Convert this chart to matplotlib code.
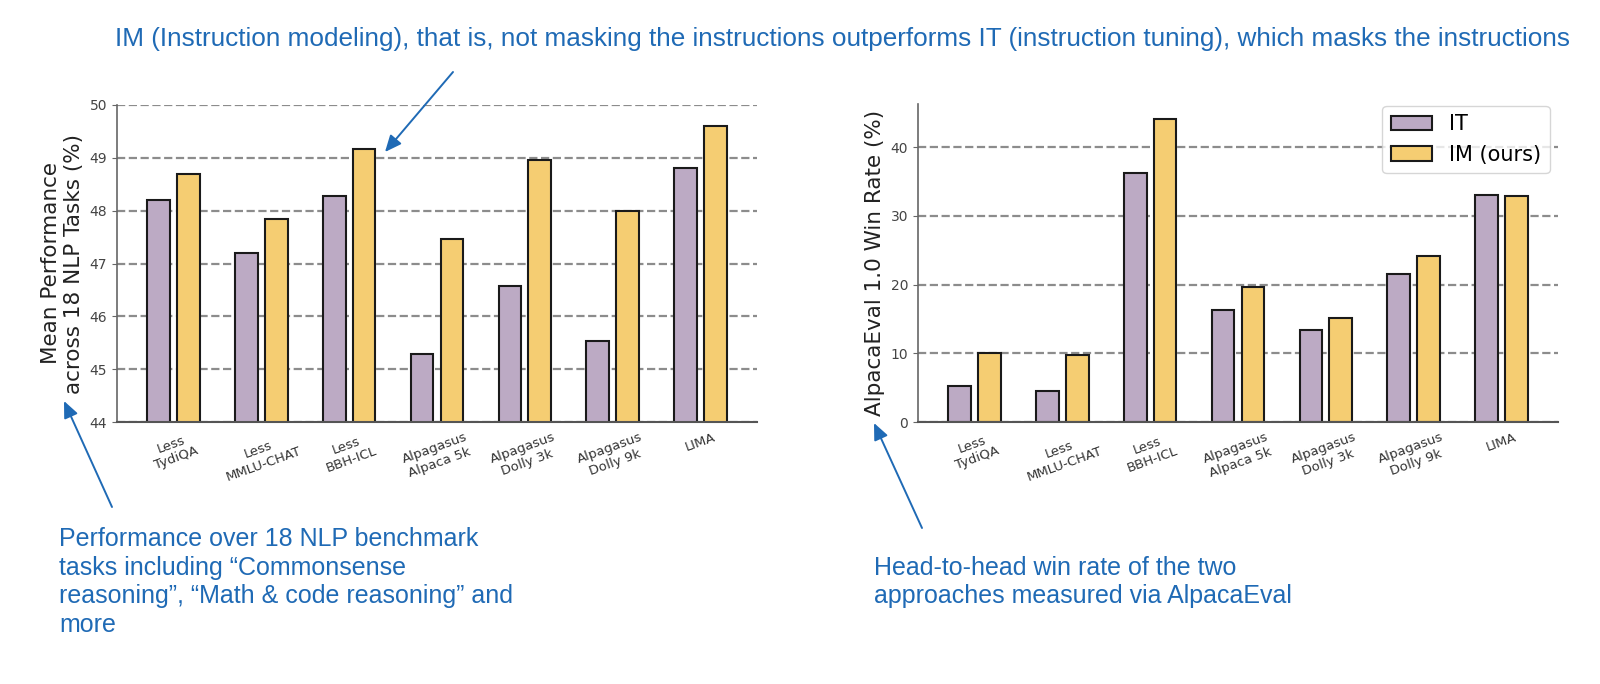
import numpy as np
import matplotlib
matplotlib.use("Agg")
import matplotlib.pyplot as plt

# data
categories = ["Less\nTydiQA", "Less\nMMLU-CHAT", "Less\nBBH-ICL", "Alpagasus\nAlpaca 5k",
              "Alpagasus\nDolly 3k", "Alpagasus\nDolly 9k", "LIMA"]
nlp_it = [48.21, 47.19, 48.28, 45.29, 46.58, 45.54, 48.80]
nlp_im = [48.70, 47.84, 49.16, 47.47, 48.96, 48.00, 49.60]
win_it = [5.2, 4.5, 36.2, 16.3, 13.4, 21.6, 33.1]
win_im = [10.1, 9.8, 44.1, 19.6, 15.1, 24.2, 32.9]
nlp_ticks = [44, 45, 46, 47, 48, 49, 50]
win_ticks = [0, 10, 20, 30, 40]
series_names = ["IT", "IM (ours)"]

c_it = "#bcaac4"
c_im = "#f5cd72"
blue = "#1f6ab5"
note_font = ["Liberation Sans", "DejaVu Sans"]

W, H = 1600, 684
fig = plt.figure(figsize=(W / 100, H / 100), dpi=100)


def px(x, y):
    # pixel position (from top-left) to figure fraction
    return x / W, 1 - y / H


def bar_panel(ax, it_vals, im_vals, ylabel):
    x = np.arange(len(categories))
    w, off = 0.26, 0.17
    ax.bar(x - off, it_vals, w, color=c_it, edgecolor="#1a1a1a", linewidth=1.5, label=series_names[0])
    ax.bar(x + off, im_vals, w, color=c_im, edgecolor="#1a1a1a", linewidth=1.5, label=series_names[1])
    ax.set_xlim(-0.64, len(categories) - 1 + 0.64)
    ax.set_xticks(x)
    ax.set_xticklabels(categories, rotation=20, ha="center", fontsize=9.5, color="#333333")
    ax.tick_params(axis="x", length=0, pad=6)
    ax.tick_params(axis="y", labelsize=10, labelcolor="#444444", color="#666666", length=3.5)
    ax.set_ylabel(ylabel, fontsize=15.5, color="#222222")
    ax.yaxis.grid(True, linestyle="--", color="#8c8c8c", linewidth=1.6)
    ax.set_axisbelow(True)
    for s in ["top", "right"]:
        ax.spines[s].set_visible(False)
    ax.spines["left"].set_color("#666666")
    ax.spines["left"].set_linewidth(1.2)
    ax.spines["bottom"].set_color("#555555")
    ax.spines["bottom"].set_linewidth(1.5)


ax1 = fig.add_axes([117 / W, 1 - 422 / H, 640 / W, 317 / H])
bar_panel(ax1, nlp_it, nlp_im, "Mean Performance\nacross 18 NLP Tasks (%)")
ax1.set_ylim(nlp_ticks[0], nlp_ticks[-1])
ax1.set_yticks(nlp_ticks)

ax2 = fig.add_axes([918 / W, 1 - 422 / H, 640 / W, 318 / H])
bar_panel(ax2, win_it, win_im, "AlpacaEval 1.0 Win Rate (%)")
ax2.set_yticks(win_ticks)
ax2.legend(loc="upper right", bbox_to_anchor=(0.99, 1.0), borderaxespad=0.1, fontsize=15)

# blue notes and arrows
fig.text(*px(115, 39), "IM (Instruction modeling), that is, not masking the instructions outperforms "
         "IT (instruction tuning), which masks the instructions",
         color=blue, fontsize=18.8, family=note_font, ha="left", va="center")
fig.text(*px(59, 582), "Performance over 18 NLP benchmark\ntasks including \u201cCommonsense\n"
         "reasoning\u201d, \u201cMath & code reasoning\u201d and\nmore",
         color=blue, fontsize=18, family=note_font, ha="left", va="center", linespacing=1.25)
fig.text(*px(874, 582), "Head-to-head win rate of the two\napproaches measured via AlpacaEval",
         color=blue, fontsize=18, family=note_font, ha="left", va="center", linespacing=1.25)

arrow_kw = dict(arrowstyle="-|>,head_length=0.5,head_width=0.22", color=blue, lw=1.4,
                mutation_scale=20, shrinkA=0, shrinkB=0)
for tip, tail in [((385, 152), (453, 72)), ((64, 401), (112, 507)), ((874, 423), (922, 528))]:
    fig.add_artist(matplotlib.patches.FancyArrowPatch(px(*tail), px(*tip), transform=fig.transFigure,
                                                      **arrow_kw))

fig.savefig("out.png", dpi=100, facecolor="white")
